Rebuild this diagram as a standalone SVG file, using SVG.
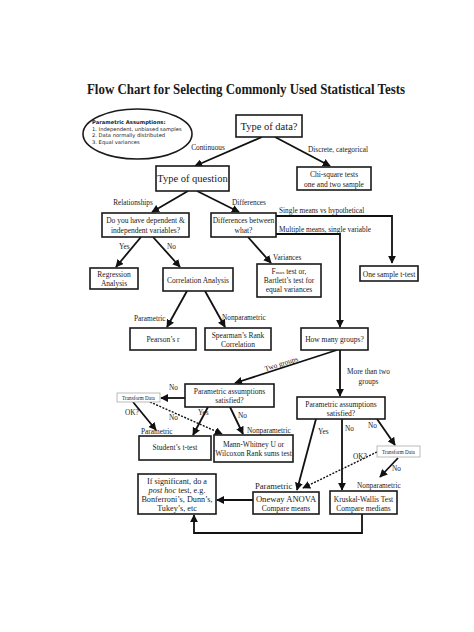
<svg xmlns="http://www.w3.org/2000/svg" width="474" height="632" viewBox="0 0 474 632">
<style>
.bx{fill:#fff;stroke:#1a1a1a;stroke-width:1.6}
.gb{fill:#fff;stroke:#aaa;stroke-width:0.8}
.t{font-family:"Liberation Serif","Times New Roman",serif;fill:#1a1a1a;text-anchor:middle;font-size:7.5px}
.l{font-family:"Liberation Serif","Times New Roman",serif;fill:#1a1a1a;font-size:7.3px}
.c{stroke:#111;stroke-width:1.8;fill:none;marker-end:url(#ah)}
.d{stroke:#111;stroke-width:1.4;fill:none;stroke-dasharray:2 1.4;marker-end:url(#ah)}
.s{font-family:"DejaVu Sans",Verdana,sans-serif;fill:#1a1a1a;font-size:5.2px}
</style>
<defs>
<marker id="ah" viewBox="0 0 10 10" refX="9" refY="5" markerWidth="8" markerHeight="8" markerUnits="userSpaceOnUse" orient="auto">
<path d="M0,0 L10,5 L0,10 z" fill="#111"/>
</marker>
</defs>
<rect width="474" height="632" fill="#fff"/>
<text x="246" y="94" font-family="'Liberation Serif','Times New Roman',serif" font-weight="bold" font-size="14" text-anchor="middle" textLength="318" lengthAdjust="spacingAndGlyphs" fill="#1a1a1a">Flow Chart for Selecting Commonly Used Statistical Tests</text>

<g id="assumptions">
<ellipse cx="137.5" cy="134" rx="54.5" ry="25" fill="#fff" stroke="#1a1a1a" stroke-width="1.6"/>
<text class="s" x="92" y="124" font-weight="bold">Parametric Assumptions:</text>
<text class="s" x="92" y="130.5">1. Independent, unbiased samples</text>
<text class="s" x="92" y="137">2. Data normally distributed</text>
<text class="s" x="92" y="143.5">3. Equal variances</text>
</g>

<g id="connectors">
<path class="c" d="M262,137 L195,166"/>
<path class="c" d="M275,137 L330,166"/>
<path class="c" d="M188,191 L152,212"/>
<path class="c" d="M197,191 L239,212"/>
<path class="c" d="M276,216 L392,216 L392,263"/>
<path class="c" d="M276,234 L340,234 L340,327"/>
<path class="c" d="M141,237 L116,267"/>
<path class="c" d="M153,237 L180,267"/>
<path class="c" d="M248,237 L271,263"/>
<path class="c" d="M187,291 L167,327"/>
<path class="c" d="M205,291 L225,327"/>
<path class="c" d="M337,350 L235,383"/>
<path class="c" d="M340,350 L340,396"/>
<path class="c" d="M185,398 L161,398"/>
<path class="c" d="M133,402 L156,430"/>
<path class="d" d="M150,402 L222,434"/>
<path class="c" d="M208,407 L193,435"/>
<path class="c" d="M230,407 L243,434"/>
<path class="c" d="M316,419 L297,490"/>
<path class="c" d="M342,419 L342,490"/>
<path class="c" d="M377,419 L395,445"/>
<path class="d" d="M377,452 L303,488"/>
<path class="c" d="M398,458 L380,477"/>
<path class="c" d="M253,500 L217,500"/>
<path class="c" d="M362,514 L362,533 L194,533 L194,515"/>
</g>

<g id="edge-labels">
<text class="l" x="208" y="150" text-anchor="middle">Continuous</text>
<text class="l" x="338" y="152" text-anchor="middle">Discrete, categorical</text>
<text class="l" x="133" y="205" text-anchor="middle">Relationships</text>
<text class="l" x="249" y="205" text-anchor="middle">Differences</text>
<text class="l" x="279" y="213">Single means vs hypothetical</text>
<text class="l" x="279" y="232">Multiple means, single variable</text>
<text class="l" x="119" y="249">Yes</text>
<text class="l" x="167" y="249">No</text>
<text class="l" x="273" y="260">Variances</text>
<text class="l" x="134" y="321">Parametric</text>
<text class="l" x="222" y="320">Nonparametric</text>
<text class="l" x="282" y="366" text-anchor="middle" transform="rotate(-17.5 282 366)">Two groups</text>
<text class="l" x="368.5" y="374" text-anchor="middle">More than two</text>
<text class="l" x="368.5" y="384" text-anchor="middle">groups</text>
<text class="l" x="169" y="390">No</text>
<text class="l" x="125" y="415">OK?</text>
<text class="l" x="169" y="420">No</text>
<text class="l" x="198" y="415">Yes</text>
<text class="l" x="238" y="418">No</text>
<text class="l" x="141" y="434">Parametric</text>
<text class="l" x="247" y="433">Nonparametric</text>
<text class="l" x="318" y="434">Yes</text>
<text class="l" x="345" y="431">No</text>
<text class="l" x="368" y="428">No</text>
<text class="l" x="353" y="459">OK?</text>
<text class="l" x="392" y="471">No</text>
<text class="l" x="357" y="488">Nonparametric</text>
<text class="l" x="255" y="489" style="font-size:8.6px">Parametric</text>
</g>

<g id="type-of-data"><rect class="bx" x="236" y="115" width="66" height="22"/><text class="t" x="269" y="129.5" style="font-size:10.5px">Type of data?</text></g>
<g id="chi-square"><rect class="bx" x="297" y="167" width="74" height="23"/><text class="t" x="334" y="177">Chi-square  tests</text><text class="t" x="334" y="186.5">one and two sample</text></g>
<g id="type-of-question"><rect class="bx" x="156" y="166" width="73" height="25"/><text class="t" x="192.5" y="182" style="font-size:10.5px">Type of question</text></g>
<g id="dependent"><rect class="bx" x="102" y="213" width="87" height="24"/><text class="t" x="145.5" y="223">Do you have dependent &amp;</text><text class="t" x="145.5" y="232.5">independent variables?</text></g>
<g id="differences"><rect class="bx" x="211" y="213" width="65" height="24"/><text class="t" x="243.5" y="223">Differences between</text><text class="t" x="243.5" y="232.5">what?</text></g>
<g id="regression"><rect class="bx" x="90" y="268" width="48" height="21"/><text class="t" x="114" y="277">Regression</text><text class="t" x="114" y="286">Analysis</text></g>
<g id="correlation"><rect class="bx" x="163" y="268" width="70" height="23"/><text class="t" x="198" y="283">Correlation Analysis</text></g>
<g id="fmax"><rect class="bx" x="257" y="264" width="64" height="33"/><text class="t" x="289" y="274">F<tspan style="font-size:5px">max</tspan> test or,</text><text class="t" x="289" y="283">Bartlett’s test for</text><text class="t" x="289" y="292">equal  variances</text></g>
<g id="one-sample"><rect class="bx" x="360" y="266" width="58" height="15"/><text class="t" x="389" y="276.5">One sample t-test</text></g>
<g id="pearson"><rect class="bx" x="130" y="328" width="66" height="22"/><text class="t" x="163" y="342">Pearson’s  r</text></g>
<g id="spearman"><rect class="bx" x="205" y="328" width="66" height="22"/><text class="t" x="238" y="337.5">Spearman’s Rank</text><text class="t" x="238" y="346.5">Correlation</text></g>
<g id="how-many"><rect class="bx" x="301" y="328" width="67" height="22"/><text class="t" x="334.5" y="342">How many groups?</text></g>
<g id="param-two"><rect class="bx" x="185" y="384" width="89" height="23"/><text class="t" x="229.5" y="394">Parametric  assumptions</text><text class="t" x="229.5" y="403">satisfied?</text></g>
<g id="param-multi"><rect class="bx" x="297" y="397" width="88" height="22"/><text class="t" x="341" y="406.5">Parametric assumptions</text><text class="t" x="341" y="415.5">satisfied?</text></g>
<g id="transform-two"><rect class="gb" x="117" y="393" width="43" height="9"/><text class="t" x="138.5" y="399.7" style="font-size:5.2px">Transform Data</text></g>
<g id="transform-multi"><rect class="gb" x="377" y="446" width="43" height="11"/><text class="t" x="398.5" y="453.5" style="font-size:5.2px">Transform Data</text></g>
<g id="student"><rect class="bx" x="139" y="436" width="72" height="24"/><text class="t" x="175" y="450">Student’s t-test</text></g>
<g id="mann-whitney"><rect class="bx" x="214" y="435" width="79" height="27"/><text class="t" x="253.5" y="446.5">Mann-Whitney U or</text><text class="t" x="253.5" y="456">Wilcoxon Rank sums test</text></g>
<g id="post-hoc"><rect class="bx" x="138" y="474" width="78" height="40"/><text class="t" x="177" y="484" style="font-size:8.2px">If significant, do a</text><text class="t" x="177" y="493" style="font-size:8.2px"><tspan font-style="italic">post hoc</tspan> test, e.g.</text><text class="t" x="177" y="502" style="font-size:8.2px">Bonferroni’s, Dunn’s,</text><text class="t" x="177" y="511" style="font-size:8.2px">Tukey’s, etc</text></g>
<g id="anova"><rect class="bx" x="253" y="492" width="66" height="22"/><text class="t" x="286" y="502" style="font-size:8.6px">Oneway ANOVA</text><text class="t" x="286" y="510.5">Compare means</text></g>
<g id="kruskal"><rect class="bx" x="330" y="491" width="67" height="23"/><text class="t" x="363.5" y="501.5">Kruskal-Wallis Test</text><text class="t" x="363.5" y="510.5">Compare medians</text></g>
</svg>
